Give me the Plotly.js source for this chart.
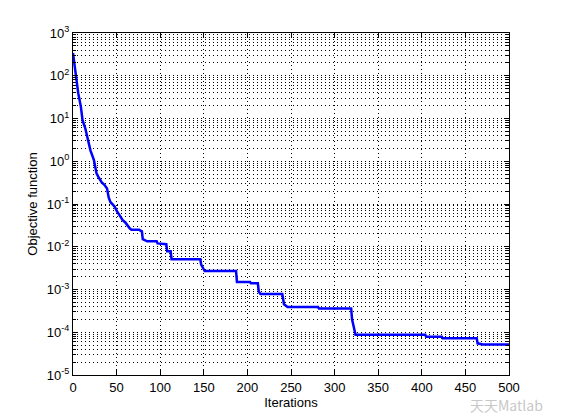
<!DOCTYPE html>
<html>
<head>
<meta charset="utf-8">
<script src="https://cdn.plot.ly/plotly-3.0.1.min.js"></script>
<style>html,body{margin:0;padding:0;background:#fff;}#chart{width:561px;height:420px;}</style>
</head>
<body>
<div id="chart"></div>
<script>
const iterations = [0,2,4,6,9,11,14,17,20,24,27,30,33,36,39,41,43,46,48,50,52,55,57,60,63,65,67,76,77,79,80,85,96,97,107,108,112,113,146,147,151,187,188,203,204,212,213,215,240,242,246,281,282,319,320,322,324,404,405,423,424,463,464,470,500];
const objective = [340,160,70,39,19,9,6,3.1,1.8,1.06,0.52,0.4,0.32,0.28,0.23,0.14,0.11,0.095,0.085,0.07,0.06,0.05,0.042,0.037,0.03,0.027,0.025,0.025,0.024,0.023,0.015,0.0134,0.0134,0.012,0.0115,0.0078,0.0078,0.0051,0.0051,0.0038,0.0027,0.0027,0.0015,0.0015,0.0014,0.0014,0.0009,0.00078,0.00078,0.00045,0.00039,0.00039,0.00036,0.00036,0.0002,0.00013,0.000087,0.000087,0.000078,0.000078,0.000072,0.000072,0.000055,0.000052,0.000052];
const xTicks = [0,50,100,150,200,250,300,350,400,450,500];
const yTickVals = [1e-5,1e-4,1e-3,1e-2,1e-1,1,10,100,1000];
const yTickText = ['10<sup>-5</sup>','10<sup>-4</sup>','10<sup>-3</sup>','10<sup>-2</sup>','10<sup>-1</sup>','10<sup>0</sup>','10<sup>1</sup>','10<sup>2</sup>','10<sup>3</sup>'];

const font = {family: 'Liberation Sans, Arial, sans-serif', size: 13, color: '#000'};
const trace = {
  x: iterations, y: objective, type: 'scatter', mode: 'lines',
  line: {color: '#0000ff', width: 2.5, shape: 'linear'}
};
const layout = {
  width: 561, height: 420,
  margin: {l: 73, r: 52, t: 33, b: 45},
  paper_bgcolor: '#fff', plot_bgcolor: '#fff',
  font: font,
  showlegend: false,
  xaxis: {
    range: [0, 500], tickvals: xTicks, ticktext: xTicks.map(String),
    showline: true, linecolor: '#000', linewidth: 1, mirror: 'ticks',
    ticks: 'inside', ticklen: 5, tickcolor: '#000',
    showgrid: true, gridcolor: '#000', gridwidth: 1, griddash: '1px,3px',
    zeroline: false,
    title: {text: 'Iterations', font: font, standoff: 3}
  },
  yaxis: {
    type: 'log', range: [-5, 3], tickvals: yTickVals, ticktext: yTickText,
    showline: true, linecolor: '#000', linewidth: 1, mirror: 'ticks',
    ticks: 'inside', ticklen: 5, tickcolor: '#000',
    showgrid: true, gridcolor: '#000', gridwidth: 1, griddash: '1px,3px',
    minor: {dtick: 'D1', ticks: 'inside', ticklen: 3, tickcolor: '#000', showgrid: true, gridcolor: '#000', gridwidth: 1, griddash: '1px,3px'},
    zeroline: false,
    title: {text: 'Objective function', font: font, standoff: 6}
  },
  annotations: [{
    xref: 'paper', yref: 'paper', x: 1.082, y: -0.088, xanchor: 'right', yanchor: 'middle',
    text: '天天Matlab', showarrow: false,
    font: {family: 'Noto Sans CJK SC, sans-serif', size: 14, color: '#c8c8c8'}
  }]
};
Plotly.newPlot('chart', [trace], layout, {displayModeBar: false, staticPlot: true});
</script>
</body>
</html>
